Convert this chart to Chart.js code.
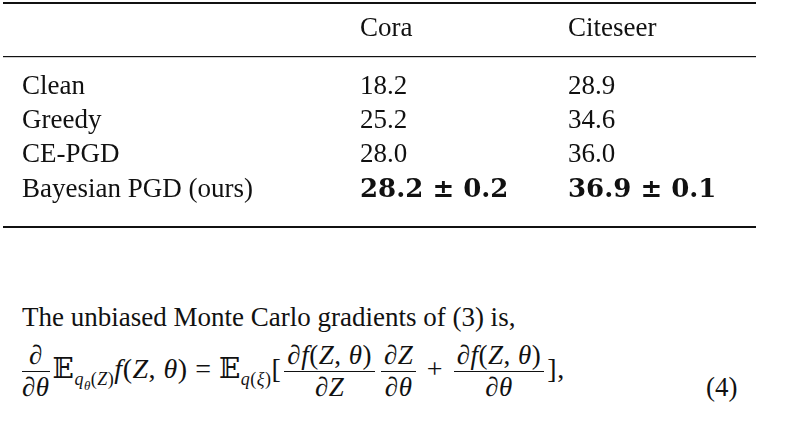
<!DOCTYPE html>
<html><head><meta charset="utf-8">
<script src="https://cdn.jsdelivr.net/npm/chart.js@4"></script>
<style>
body{margin:0;background:#fff;font-family:"Liberation Serif","DejaVu Serif",serif;color:#111;}
#wrap{position:relative;width:795px;height:429px;}
#c{position:absolute;left:0;top:0;}
.t{position:absolute;font-size:27px;white-space:nowrap;}
.fr{display:inline-block;vertical-align:middle;text-align:center;font-size:27px;margin:0 3px;}
.fr span{display:block;line-height:1.15;}
.fr .n{border-bottom:1.5px solid #111;padding:0 3px;}
i{font-style:italic;}
sub{font-size:18px;}
</style></head><body>
<div id="wrap">
<canvas id="c" width="795" height="240"></canvas>
<div class="t" style="left:22px;top:302px;">The unbiased Monte Carlo gradients of (3) is,</div>
<div class="t" style="left:22px;top:340px;font-size:28px;letter-spacing:0.5px;">
<span class="fr" style="margin-left:0"><span class="n">∂</span><span>∂<i>θ</i></span></span>𝔼<sub><i>q<sub style="font-size:13px">θ</sub></i>(<i>Z</i>)</sub><i>f</i>(<i>Z</i>, <i>θ</i>) = 𝔼<sub><i>q</i>(<i>ξ</i>)</sub>[<span class="fr"><span class="n">∂<i>f</i>(<i>Z</i>, <i>θ</i>)</span><span>∂<i>Z</i></span></span><span class="fr"><span class="n">∂<i>Z</i></span><span>∂<i>θ</i></span></span> + <span class="fr"><span class="n">∂<i>f</i>(<i>Z</i>, <i>θ</i>)</span><span>∂<i>θ</i></span></span>],
</div>
<div class="t" style="left:706px;top:372px;">(4)</div>
</div>
<script>
const columns=["Cora","Citeseer"];
const methods=["Clean","Greedy","CE-PGD","Bayesian PGD (ours)"];
const cora=["18.2","25.2","28.0","28.2 ± 0.2"];
const citeseer=["28.9","34.6","36.0","36.9 ± 0.1"];
const bold=[false,false,false,true];
const tablePlugin={id:'table',afterDraw(ch){
 const g=ch.ctx;g.save();g.fillStyle='#111';g.strokeStyle='#111';
 g.fillRect(3,2,753,2);g.fillRect(3,56,753,1.2);g.fillRect(3,226,753,2);
 g.font='27px "Liberation Serif", serif';g.textBaseline='middle';
 g.fillText(columns[0],360,29);g.fillText(columns[1],568,29);
 const ys=[87,121,155,190];
 methods.forEach((m,i)=>{
  g.font='27px "Liberation Serif", serif';g.fillText(m,22,ys[i]);
  g.font=bold[i]?'bold 26px "DejaVu Serif", serif':'27px "Liberation Serif", serif';
  g.fillText(cora[i],360,ys[i]);g.fillText(citeseer[i],568,ys[i]);
 });
 g.restore();}};
new Chart(document.getElementById('c'),{type:'scatter',data:{datasets:[{data:[]}]},
 options:{responsive:false,animation:false,events:[],plugins:{legend:{display:false},tooltip:{enabled:false}},
 scales:{x:{display:false},y:{display:false}}},plugins:[tablePlugin]});
</script>
</body></html>
